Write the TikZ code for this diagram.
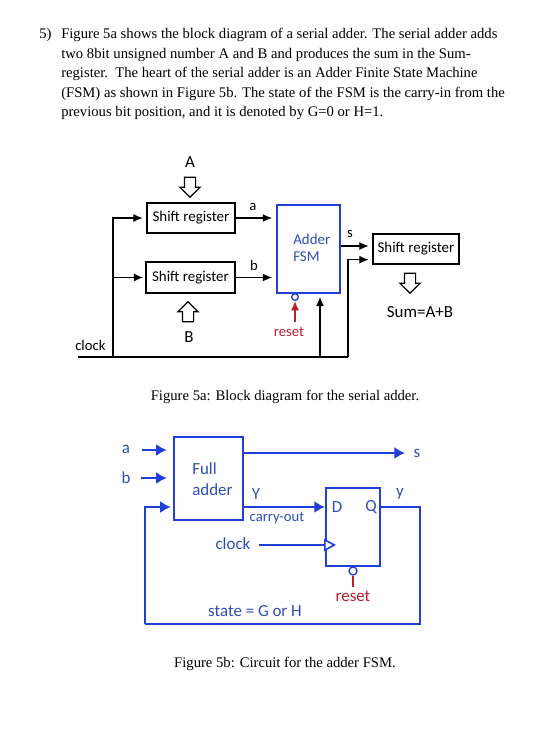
\documentclass[tikz,border=0pt]{standalone}
\usepackage{fontspec}
\setmainfont{Liberation Serif}
\setsansfont{Carlito}
\usetikzlibrary{arrows.meta,shapes.arrows}
\definecolor{wireblue}{HTML}{1F3FD6}
\definecolor{textblue}{HTML}{2F4DB4}
\definecolor{resetred}{HTML}{B8202A}
\begin{document}
\begin{tikzpicture}[
  x=0.75pt, y=-0.75pt,
  txt/.style={font=\fontsize{11}{13}\selectfont, anchor=base west, inner sep=0pt},
  figcap/.style={font=\fontsize{11}{13}\selectfont, inner sep=0pt},
  lbl/.style={font=\sffamily\fontsize{11}{13}\selectfont, inner sep=0pt},
  big/.style={font=\sffamily\fontsize{12.7}{14}\selectfont},
  blbl/.style={lbl, big, text=textblue},
  rlbl/.style={lbl, text=resetred},
  reg/.style={draw, line width=1.5pt, inner sep=0pt, font=\sffamily\fontsize{11.2}{13}\selectfont},
  wire/.style={line width=0.9pt},
  arr/.style={wire, -{Latex[length=7pt,width=6pt]}},
  bwire/.style={wireblue, line width=1.4pt},
  barr/.style={bwire, -{Latex[length=8pt,width=9pt]}},
  bbox/.style={draw=wireblue, line width=1.6pt, inner sep=0pt},
  hollow/.style={single arrow, draw, line width=0.9pt, inner sep=3.75pt, minimum height=15pt,
    single arrow head extend=3.4pt, single arrow tip angle=90},
  bub/.style={circle, draw=wireblue, fill=white, line width=1pt, inner sep=0pt, minimum size=5pt}
]
\useasboundingbox (0,0) rectangle (549,735);

% problem text
\node[txt] (num) at (39,39) {5)};
\node[txt] (line1) at (61,39) {Figure 5a shows the block diagram of a serial adder. The serial adder adds};
\node[txt] (line2) at (61,59) {two 8bit unsigned number A and B and produces the sum in the Sum-};
\node[txt] (line3) at (61,78) {register.\ \ The heart of the serial adder is an Adder Finite State Machine};
\node[txt] (line4) at (61,98) {(FSM) as shown in Figure 5b. The state of the FSM is the carry-in from the};
\node[txt] (line5) at (61,117) {previous bit position, and it is denoted by G=0 or H=1.};

% figure 5a
\node[reg, minimum width=66pt, minimum height=22.5pt] (regA) at (191,218) {Shift register};
\node[reg, minimum width=66.5pt, minimum height=23pt] (regB) at (190.5,277.5) {Shift register};
\node[bbox, minimum width=47pt, minimum height=66pt] (fsm) at (308.5,249) {};
\node[reg, minimum width=64.5pt, minimum height=22.5pt] (regS) at (416,249) {Shift register};
\node[lbl, big] (inA) at (190,162) {A};
\node[lbl, big] (inB) at (189,337) {B};
\node[hollow, rotate=-90] (arrA) at (190,184.5) {};
\node[hollow, rotate=90] (arrB) at (188,314.5) {};
\node[hollow, rotate=-90] (arrS) at (410,280.5) {};
\node[lbl, big] (sumlbl) at (420,312) {Sum=A+B};
\node[lbl] (la) at (253,207) {a};
\node[lbl] (lb) at (254,265) {b};
\node[lbl] (ls) at (350,234) {s};
\node[blbl, font=\sffamily\fontsize{11.2}{13}\selectfont, anchor=west] (fsm1) at (293,239) {Adder};
\node[blbl, font=\sffamily\fontsize{11.2}{13}\selectfont, anchor=west] (fsm2) at (293,257) {FSM};
\node[rlbl] (rst1) at (289,332) {reset};
\node[lbl, anchor=west] (clk1) at (75,345) {clock};
\node[bub] (bub1) at (295,297) {};
\coordinate (clkin) at (78,357);
\coordinate (clkA) at (113,357);
\coordinate (clkF) at (320,357);
\coordinate (clkS) at (348,357);
\draw[wire] (clkin) -- (clkS);
\draw[arr] (clkA) |- ([xshift=-2.5pt]regA.west);
\draw[arr] (clkA |- regB) -- ([xshift=-1.5pt]regB.west);
\draw[arr] (clkF) -- ([yshift=-2pt]clkF |- fsm.south);
\draw[arr] (clkS) |- ([yshift=-8pt,xshift=-2.5pt]regS.west);
\draw[arr] (regA) -- ([xshift=-3pt]fsm.west |- regA);
\draw[arr] (regB) -- ([xshift=-3pt]fsm.west |- regB);
\draw[arr] (fsm.east |- 340,246) -- ([xshift=-2.5pt]regS.west |- 340,246);
\draw[resetred, line width=1pt, -{Latex[length=7pt,width=6pt]}] (bub1 |- 0,322) -- (bub1);

\node[figcap] (cap1) at (285,397) {Figure 5a: Block diagram for the serial adder.};

% figure 5b
\node[bbox, minimum width=52pt, minimum height=62pt] (fa) at (208.5,478.5) {};
\node[bbox, minimum width=40.5pt, minimum height=58.5pt] (dff) at (353,527) {};
\node[blbl] (ia) at (126,449) {a};
\node[blbl] (ib) at (126,478) {b};
\node[blbl] (os) at (417,453) {s};
\node[blbl, anchor=west] (fa1) at (192,469) {Full};
\node[blbl, anchor=west] (fa2) at (192,490) {adder};
\node[blbl] (lY) at (256,494) {Y};
\node[blbl] (ly) at (400,494) {y};
\node[blbl] (lD) at (337,507) {D};
\node[blbl] (lQ) at (371,507) {Q};
\node[blbl, font=\sffamily\fontsize{11}{13}\selectfont] (lc) at (277,518) {carry-out};
\node[blbl] (clk2) at (233,544) {clock};
\node[rlbl, big] (rst2) at (353,596) {reset};
\node[blbl] (st) at (255,611) {state = G or H};
\node[bub, minimum size=6pt] (bub2) at (353,571) {};
\coordinate (ain) at (142,450);
\coordinate (bin) at (141,478);
\coordinate (outs) at (405,453);
\coordinate (clkd) at (259,545);
\coordinate (qr) at (420,507);
\coordinate (ql) at (145,624);
\draw[barr] (ain) -- ([xshift=-4.5pt]fa.west |- ain);
\draw[barr] (bin) -- ([xshift=-4.5pt]fa.west |- bin);
\draw[barr] (fa.east |- outs) -- (outs);
\draw[barr] (fa.east |- qr) -- (dff.west |- qr);
\draw[bwire] (clkd) -- (dff.west |- clkd);
\draw[wireblue, line width=1.2pt, fill=white] ([yshift=-3.8pt]dff.west |- clkd) -- ([xshift=7pt]dff.west |- clkd) -- ([yshift=3.8pt]dff.west |- clkd) -- cycle;
\draw[bwire] (dff.east |- qr) -- (qr) |- (ql);
\draw[barr] (ql) |- ([xshift=-1.5pt]fa.west |- qr);
\draw[resetred, line width=1.2pt] (bub2) -- (bub2 |- 0,587);

\node[figcap] (cap2) at (285,664) {Figure 5b: Circuit for the adder FSM.};
\end{tikzpicture}
\end{document}
